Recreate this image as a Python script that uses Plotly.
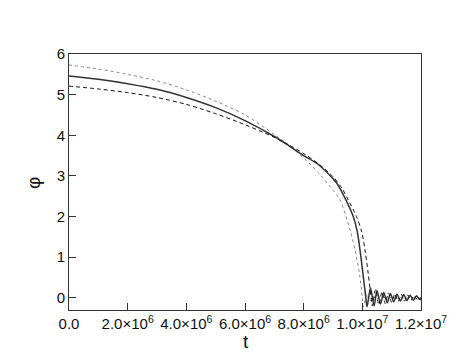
import plotly.graph_objects as go

# time values in units of 1e6
t_solid = [0, 1, 2, 3, 4, 5, 6, 7, 7.5, 8, 8.5, 9, 9.13, 9.44, 9.69, 9.83, 9.92, 10.0, 10.12, 10.16,
           10.28, 10.4, 10.5, 10.62, 10.73, 10.85, 10.96, 11.07, 11.18, 11.3, 11.41, 11.52, 11.63, 11.74, 11.85, 11.96, 12.0]
phi_solid = [5.46, 5.38, 5.27, 5.13, 4.93, 4.68, 4.36, 3.97, 3.74, 3.5, 3.28, 2.93, 2.82, 2.41, 2.0, 1.62, 1.18, 0.72, 0.0, -0.22,
             0.24, -0.2, 0.18, -0.15, 0.13, -0.12, 0.1, -0.1, 0.09, -0.08, 0.08, -0.07, 0.06, -0.06, 0.05, -0.05, 0.0]

t_dashed = [0, 1, 2, 3, 4, 5, 6, 7, 7.5, 8, 8.5, 9, 9.3, 9.52, 9.8, 9.98, 10.09, 10.2, 10.3, 10.34,
            10.45, 10.56, 10.67, 10.78, 10.89, 11.0, 11.11, 11.22, 11.33, 11.44, 11.55, 11.66, 11.77, 11.88, 12.0]
phi_dashed = [5.21, 5.14, 5.05, 4.93, 4.76, 4.53, 4.26, 3.95, 3.76, 3.55, 3.3, 2.98, 2.7, 2.41, 2.0, 1.62, 1.18, 0.6, 0.0, -0.2,
              0.2, -0.17, 0.15, -0.14, 0.12, -0.11, 0.1, -0.09, 0.08, -0.08, 0.07, -0.06, 0.06, -0.05, 0.0]

t_dotted = [0, 1, 2, 3, 4, 5, 6, 7, 7.5, 8, 8.5, 9, 9.24, 9.5, 9.6, 9.75, 9.9, 10.0, 10.04,
            10.15, 10.26, 10.37, 10.48, 10.6, 10.8, 11.0, 11.5, 12.0]
phi_dotted = [5.73, 5.63, 5.5, 5.34, 5.12, 4.84, 4.5, 4.02, 3.75, 3.44, 3.08, 2.65, 2.41, 1.87, 1.62, 1.18, 0.6, 0.02, -0.22,
              0.1, -0.08, 0.05, -0.04, 0.03, 0.0, 0.0, 0.0, 0.0]

x_tick_vals = [0, 2, 4, 6, 8, 10, 12]
x_tick_text = ["0.0", "2.0×10<sup>6</sup>", "4.0×10<sup>6</sup>", "6.0×10<sup>6</sup>",
               "8.0×10<sup>6</sup>", "1.0×10<sup>7</sup>", "1.2×10<sup>7</sup>"]
y_tick_vals = [0, 1, 2, 3, 4, 5, 6]

scale = 1e6
ff = "Liberation Sans, Arial, sans-serif"

fig = go.Figure()
fig.add_trace(go.Scatter(x=[v * scale for v in t_dotted], y=phi_dotted, mode="lines",
                         line=dict(color="#8a8a8a", width=1, dash="dot", shape="spline", smoothing=0.8)))
fig.add_trace(go.Scatter(x=[v * scale for v in t_solid], y=phi_solid, mode="lines",
                         line=dict(color="#333333", width=1.5, shape="spline", smoothing=0.8)))
fig.add_trace(go.Scatter(x=[v * scale for v in t_dashed], y=phi_dashed, mode="lines",
                         line=dict(color="#111111", width=1, dash="4px,3px", shape="spline", smoothing=0.8)))

axis_font = dict(family=ff, size=15, color="#111111")
fig.update_layout(
    width=466, height=348,
    margin=dict(l=61, r=53, t=46, b=46),
    paper_bgcolor="white", plot_bgcolor="white",
    showlegend=False,
    font=axis_font,
    xaxis=dict(range=[0, 12e6], tickvals=[v * scale for v in x_tick_vals], ticktext=x_tick_text,
               ticks="inside", ticklen=7, tickcolor="#333333", showline=True, linecolor="#333333",
               linewidth=1, mirror=True, showgrid=False, zeroline=False, tickfont=axis_font),
    yaxis=dict(range=[-0.3, 6], tickvals=y_tick_vals, ticks="inside", ticklen=7, tickcolor="#333333",
               showline=True, linecolor="#333333", linewidth=1, mirror=True, showgrid=False, zeroline=False,
               tickfont=axis_font),
    annotations=[
        dict(text="t", xref="paper", yref="paper", x=0.503, y=0, yanchor="middle", xanchor="center",
             yshift=-31, showarrow=False, font=dict(family=ff, size=19, color="#111111")),
        dict(text="φ", xref="paper", yref="paper", x=0, y=0.496, xanchor="center", yanchor="middle",
             xshift=-36, textangle=-90, showarrow=False, font=dict(family=ff, size=19, color="#111111")),
    ],
)

fig.write_html("out.html")
